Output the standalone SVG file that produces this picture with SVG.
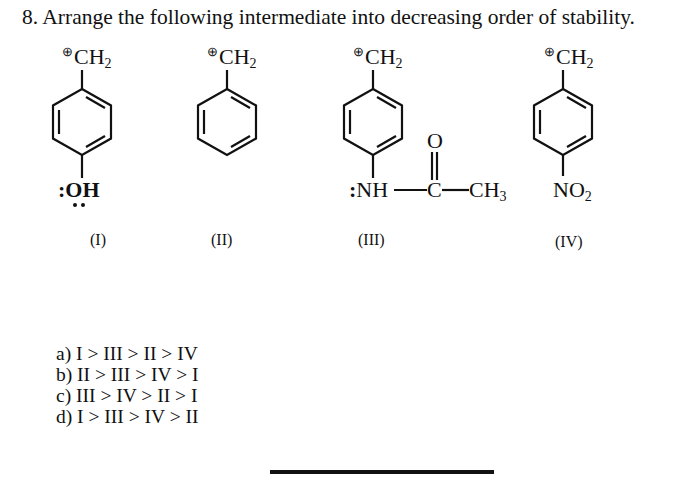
<svg xmlns="http://www.w3.org/2000/svg" width="700" height="482" viewBox="0 0 700 482">
<style>
text{font-family:"Liberation Serif","Times New Roman",serif;fill:#111}
.b{stroke:#111;stroke-width:2.2;fill:none}
.t{font-size:21.5px}
.c{font-size:22px}
.s{font-size:13px}
.l{font-size:16px}
.o{font-size:19.5px}
</style>
<defs>
<g id="ring">
<polygon class="b" points="0,-33 29,-16.5 29,16.5 0,33 -29,16.5 -29,-16.5"/>
<line class="b" x1="4" y1="-25" x2="23" y2="-14"/>
<line class="b" x1="-23" y1="-12" x2="-23" y2="12"/>
<line class="b" x1="4" y1="25" x2="23" y2="14"/>
<line class="b" x1="0" y1="-33" x2="0" y2="-52"/>
</g>
</defs>
<rect width="700" height="482" fill="#fff"/>
<text x="22" y="24" class="t">8. Arrange the following intermediate into decreasing order of stability.</text>
<g id="I">
<use href="#ring" x="82" y="122"/>
<line class="b" x1="82" y1="155" x2="82" y2="178"/>
<text x="62" y="56" class="s">⊕</text><text x="74" y="64" class="c">CH<tspan font-size="14" dy="4">2</tspan></text>
<text x="58" y="197" class="c" font-weight="bold">:OH</text>
<circle cx="75" cy="205" r="2" fill="#111"/><circle cx="83" cy="205" r="2" fill="#111"/>
<text x="90" y="245" class="l">(I)</text>
</g>
<g id="II">
<use href="#ring" x="227" y="122"/>
<text x="207" y="56" class="s">⊕</text><text x="219" y="64" class="c">CH<tspan font-size="14" dy="4">2</tspan></text>
<text x="211" y="245" class="l">(II)</text>
</g>
<g id="III">
<use href="#ring" x="373" y="122"/>
<line class="b" x1="373" y1="155" x2="373" y2="178"/>
<text x="353" y="56" class="s">⊕</text><text x="365" y="64" class="c">CH<tspan font-size="14" dy="4">2</tspan></text>
<text x="349" y="197" class="c"><tspan font-weight="bold">:</tspan>NH</text>
<line class="b" x1="394" y1="190" x2="427" y2="190"/>
<text x="427" y="197" class="c">C</text>
<line class="b" x1="442" y1="190" x2="469" y2="190"/>
<text x="469" y="197" class="c">CH<tspan font-size="14" dy="4">3</tspan></text>
<text x="427" y="148" class="c">O</text>
<line class="b" x1="432" y1="152" x2="432" y2="180"/>
<line class="b" x1="437" y1="152" x2="437" y2="180"/>
<text x="358" y="245" class="l">(III)</text>
</g>
<g id="IV">
<use href="#ring" x="563" y="122"/>
<line class="b" x1="563" y1="155" x2="563" y2="176"/>
<text x="544" y="56" class="s">⊕</text><text x="556" y="64" class="c">CH<tspan font-size="14" dy="4">2</tspan></text>
<text x="553" y="197" class="c">NO<tspan font-size="14" dy="4">2</tspan></text>
<text x="555" y="247" class="l">(IV)</text>
</g>
<g id="options">
<text x="56" y="360" class="o">a) I &gt; III &gt; II &gt; IV</text>
<text x="56" y="381" class="o">b) II &gt; III &gt; IV &gt; I</text>
<text x="56" y="402" class="o">c) III &gt; IV &gt; II &gt; I</text>
<text x="56" y="423" class="o">d) I &gt; III &gt; IV &gt; II</text>
</g>
<g id="connectors"><line x1="270" y1="472" x2="494" y2="472" stroke="#111" stroke-width="4"/></g>
</svg>
